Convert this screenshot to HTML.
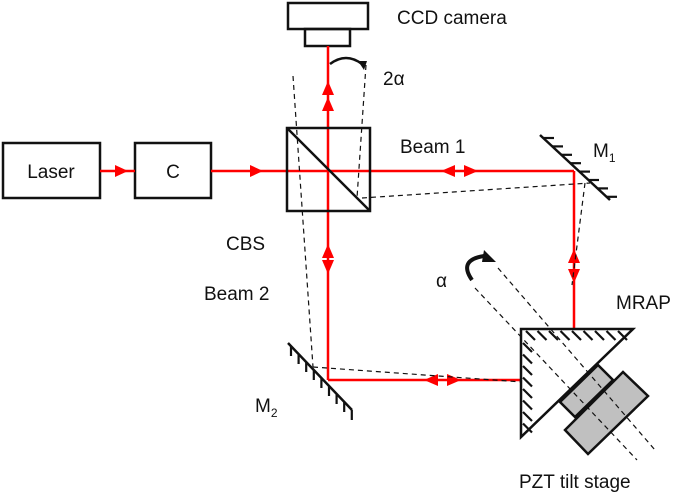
<!DOCTYPE html>
<html><head><meta charset="utf-8"><style>
html,body{margin:0;padding:0;background:#fff;}
svg{display:block;}
text{font-family:"Liberation Sans",Arial,sans-serif;fill:#111;}
</style></head><body>
<svg id="s" width="685" height="498" viewBox="0 0 685 498" xmlns="http://www.w3.org/2000/svg">
<g fill="none" stroke="#111" stroke-width="2.5">
<rect x="3" y="143" width="97" height="55"/>
<rect x="135" y="143" width="76" height="55"/>
<rect x="288" y="3" width="80" height="26"/>
<rect x="305" y="29" width="45" height="17"/>
</g>
<g stroke="#f00" stroke-width="2.5" fill="none">
<line x1="100" y1="171" x2="135" y2="171"/>
<line x1="211" y1="171" x2="574" y2="171"/>
<line x1="328" y1="46" x2="328" y2="380"/>
<line x1="574" y1="171" x2="574" y2="329"/>
<line x1="328" y1="380" x2="521" y2="380"/>
</g>
<g fill="#f00">
<polygon points="128,171 115,165 115,177"/>
<polygon points="263,171 250,165 250,177"/>
<polygon points="328,81 322,95 334,95"/>
<polygon points="328,97 322,111 334,111"/>
<polygon points="441,171 455,165 455,177"/>
<polygon points="478,171 464,165 464,177"/>
<polygon points="328,244 322,258 334,258"/>
<polygon points="328,274 322,260 334,260"/>
<polygon points="574,249 568,263 580,263"/>
<polygon points="574,283 568,269 580,269"/>
<polygon points="424,380 438,374 438,386"/>
<polygon points="461,380 447,374 447,386"/>
</g>
<g fill="none" stroke="#111" stroke-width="2.5">
<rect x="287" y="128" width="83" height="83"/>
<line x1="288" y1="129" x2="369" y2="210"/>
<line x1="540" y1="135" x2="610" y2="200"/>
<line x1="288" y1="343" x2="352" y2="410"/>
<polygon points="521,329 633,329 521,437"/>
<polygon points="560,402 598,365 613,380 575,417" fill="#c0c0c0"/>
<polygon points="565,430 623,372 648,396 588,454" fill="#c0c0c0"/>
<path d="M330,64 Q346,52 362,64" />
<path d="M472,280 Q458,260 484,256" stroke-width="4"/>
</g>
<polygon points="364,70 358,61 367,61" fill="#111"/>
<polygon points="496,262 484,250 482,262" fill="#111"/>
<g id="h" stroke="#111" stroke-width="2.2"></g>
<g fill="none" stroke="#111" stroke-width="1.2" stroke-dasharray="5,4">
<line x1="293" y1="76" x2="313" y2="367"/>
<line x1="366" y1="65" x2="357" y2="198"/>
<line x1="362" y1="198" x2="590" y2="183"/>
<line x1="585" y1="183" x2="572" y2="285"/>
<line x1="313" y1="367" x2="522" y2="382"/>
<line x1="498" y1="268" x2="655" y2="450"/>
<line x1="475" y1="288" x2="637" y2="460"/>
</g>
<text x="397" y="24" font-size="19">CCD camera</text>
<text x="383" y="85" font-size="19">2α</text>
<text x="400" y="153" font-size="19">Beam 1</text>
<text x="593" y="157" font-size="19">M<tspan font-size="12" dy="5">1</tspan></text>
<text x="51" y="178" font-size="19" text-anchor="middle">Laser</text>
<text x="173" y="178" font-size="19" text-anchor="middle">C</text>
<text x="226" y="250" font-size="19">CBS</text>
<text x="204" y="300" font-size="19">Beam 2</text>
<text x="436" y="287" font-size="19">α</text>
<text x="616" y="309" font-size="19">MRAP</text>
<text x="255" y="412" font-size="19">M<tspan font-size="12" dy="5">2</tspan></text>
<text x="519" y="488" font-size="19">PZT tilt stage</text>
</svg>
<script>
var g=document.getElementById('h'),s='';
function L(a,b,c,d){s+='<line x1="'+a+'" y1="'+b+'" x2="'+c+'" y2="'+d+'"/>';}
for(var i=0;i<=7;i++){var x=543+i*9,y=138+i*8.4;L(x,y,x+11,y);}
for(var i=0;i<=8;i++){var x=291+i*7.6,y=346+i*8;L(x,y,x,y+10);}
for(var i=0;i<9;i++){var x=526+i*11.5;L(x,331,x+9,340);}
for(var i=0;i<8;i++){var y=343+i*11.5;L(523,y,532,y+9);}
g.innerHTML=s;
</script>
</body></html>
